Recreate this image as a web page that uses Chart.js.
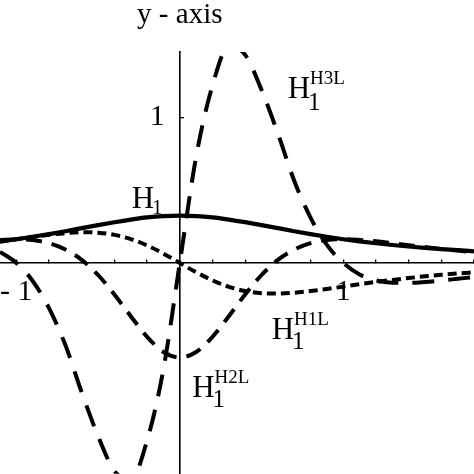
<!DOCTYPE html>
<html>
<head>
<meta charset="utf-8">
<script src="https://cdn.jsdelivr.net/npm/chart.js@4.4.1/dist/chart.umd.min.js"></script>
<style>
  html, body { margin: 0; padding: 0; background: #fff; overflow: hidden; }
  #wrap { width: 474px; height: 474px; }
</style>
</head>
<body>
<div id="wrap"><canvas id="chart"></canvas></div>
<script>
/* ================= DATA ================= */

const xValues = [-1.1, -1.0, -0.9, -0.8, -0.7, -0.6, -0.5, -0.4, -0.3, -0.2, -0.1,
  0, 0.1, 0.2, 0.3, 0.4, 0.5, 0.6, 0.7, 0.8, 0.9, 1.0, 1.1, 1.2, 1.3, 1.4, 1.5, 1.6, 1.7, 1.8];

// H1 (solid)
const h1 = [0.147, 0.163, 0.180, 0.198, 0.218, 0.239, 0.260, 0.280, 0.298, 0.313, 0.322,
  0.325, 0.322, 0.313, 0.298, 0.280, 0.260, 0.239, 0.218, 0.198, 0.180, 0.163, 0.148, 0.135,
  0.123, 0.113, 0.103, 0.095, 0.088, 0.080];

// H1^H1L (short dashes)
const h1H1L = [0.146, 0.163, 0.179, 0.193, 0.205, 0.211, 0.208, 0.193, 0.164, 0.120, 0.064,
  0, -0.064, -0.120, -0.164, -0.193, -0.208, -0.211, -0.205, -0.193, -0.179, -0.163, -0.146,
  -0.131, -0.117, -0.104, -0.092, -0.082, -0.073, -0.065];

// H1^H2L (medium dashes)
const h1H2L = [0.158, 0.163, 0.157, 0.136, 0.092, 0.021, -0.083, -0.217, -0.366, -0.508, -0.612,
  -0.650, -0.612, -0.508, -0.366, -0.217, -0.083, 0.021, 0.092, 0.136, 0.157, 0.163, 0.158,
  0.149, 0.136, 0.122, 0.109, 0.096, 0.085, 0.074];

// H1^H3L (long dashes)
const h1H3L = [0.076, 0, -0.124, -0.311, -0.565, -0.890, -1.190, -1.430, -1.490, -1.220, -0.730,
  0, 0.730, 1.220, 1.490, 1.430, 1.190, 0.890, 0.565, 0.311, 0.124, 0, -0.080,
  -0.120, -0.136, -0.137, -0.131, -0.121, -0.109, -0.097];

const xTickValues = [-1.0, -0.8, -0.6, -0.4, -0.2, 0, 0.2, 0.4, 0.6, 0.8, 1.0, 1.2, 1.4, 1.6, 1.8];
const xLabelValues = [-1, 1];
const xLabelTexts = ['- 1', '1'];
const yTickValues = [1];
const yLabelTexts = ['1'];

/* ================= STYLE ================= */

const SERIF = "'Liberation Serif', 'Times New Roman', serif";
Chart.defaults.font.family = SERIF;
Chart.defaults.color = '#000';

const pts = ys => xValues.map((x, i) => ({ x: x, y: ys[i] }));

function lineSet(label, ys, dash, width) {
  return {
    label: label,
    data: pts(ys),
    borderColor: '#000',
    borderWidth: width,
    borderDash: dash,
    pointRadius: 0,
    fill: false,
    cubicInterpolationMode: 'monotone',
    clip: 0
  };
}

/* ================= TEXT PLUGINS ================= */

// curve names: position in data units of the baseline-left of the big "H"
const curveLabels = [
  { sup: '',    x: -0.294, y: 0.38,   subSize: 20, subDrop: 6 },
  { sup: 'H3L', x: 0.66,   y: 1.135,  subSize: 25, subDrop: 12 },
  { sup: 'H1L', x: 0.562,  y: -0.52,  subSize: 25, subDrop: 10 },
  { sup: 'H2L', x: 0.076,  y: -0.925, subSize: 25, subDrop: 10 }
];

const textPlugin = {
  id: 'texts',
  afterDraw(chart) {
    const { ctx, scales: { x, y } } = chart;
    ctx.save();
    ctx.fillStyle = '#000';
    ctx.textBaseline = 'alphabetic';

    // axis name over the vertical axis
    ctx.font = '29px ' + SERIF;
    ctx.textAlign = 'center';
    ctx.fillText('y - axis', x.getPixelForValue(0), 23);

    ctx.textAlign = 'left';
    curveLabels.forEach(l => {
      const px = x.getPixelForValue(l.x);
      const py = y.getPixelForValue(l.y);
      ctx.font = '31px ' + SERIF;
      ctx.fillText('H', px, py);
      const w = ctx.measureText('H').width;
      ctx.font = l.subSize + 'px ' + SERIF;
      ctx.fillText('1', px + w - 2, py + l.subDrop);
      if (l.sup) {
        ctx.font = '19px ' + SERIF;
        ctx.fillText(l.sup, px + w, py - 14);
      }
    });
    ctx.restore();
  }
};

/* ================= CHART ================= */

new Chart(document.getElementById('chart'), {
  type: 'line',
  data: {
    datasets: [
      lineSet('H1', h1, [], 4.2),
      lineSet('H1 H1L', h1H1L, [9, 5], 4),
      lineSet('H1 H2L', h1H2L, [16, 10], 4),
      lineSet('H1 H3L', h1H3L, [22, 14], 4)
    ]
  },
  options: {
    responsive: true,
    maintainAspectRatio: false,
    animation: false,
    layout: { padding: { top: 52, left: 0, right: 0, bottom: 0 } },
    plugins: {
      legend: { display: false },
      title: { display: false },
      tooltip: { enabled: false }
    },
    scales: {
      x: {
        type: 'linear',
        min: -1.1,
        max: 1.8,
        position: { y: 0 },
        afterBuildTicks: s => { s.ticks = xTickValues.map(v => ({ value: v })); },
        grid: { drawOnChartArea: false, drawTicks: true, tickLength: -4, color: '#000', lineWidth: 1.3 },
        border: { display: true, color: '#000', width: 1.6 },
        ticks: {
          autoSkip: false,
          maxRotation: 0,
          minRotation: 0,
          padding: 0,
          color: '#000',
          font: { size: 30, lineHeight: 2.23 },
          callback: v => {
            const i = xLabelValues.findIndex(t => Math.abs(t - v) < 1e-9);
            return i < 0 ? '' : xLabelTexts[i];
          }
        }
      },
      y: {
        type: 'linear',
        min: -1.45,
        max: 1.45,
        position: { x: 0 },
        afterBuildTicks: s => { s.ticks = yTickValues.map(v => ({ value: v })); },
        grid: { drawOnChartArea: false, drawTicks: true, tickLength: -5, color: '#000', lineWidth: 1.3 },
        border: { display: true, color: '#000', width: 1.6 },
        ticks: {
          padding: 0,
          color: '#000',
          font: { size: 30, lineHeight: 0.01 },
          // label sits right-aligned on the axis, an en space keeps the gap
          callback: v => {
            const i = yTickValues.indexOf(v);
            return i < 0 ? '' : yLabelTexts[i] + '\u2002';
          }
        }
      }
    }
  },
  plugins: [textPlugin]
});
</script>
</body>
</html>
